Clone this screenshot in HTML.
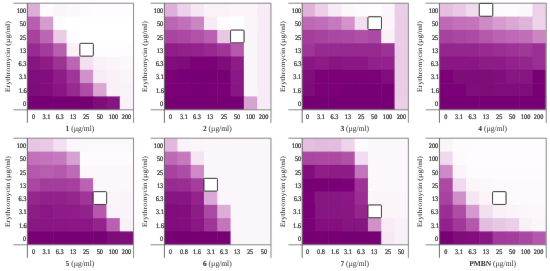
<!DOCTYPE html>
<html><head><meta charset="utf-8"><title>Checkerboard heatmaps</title>
<style>
html,body{margin:0;padding:0;background:#fff;}
svg{display:block;}
text{font-family:"Liberation Serif","DejaVu Serif",serif;fill:#111;stroke:#111;stroke-width:0.2px;text-rendering:geometricPrecision;}
.t{font-size:6.3px;}
.a{font-size:7.8px;stroke:none;}
.y{font-size:6.9px;stroke:none;}
.b{font-weight:bold;}
</style></head><body>
<svg width="550" height="271" viewBox="0 0 550 271">
<defs><filter id="soft" x="0" y="0" width="550" height="271" filterUnits="userSpaceOnUse"><feConvolveMatrix order="3" kernelMatrix="0.0016 0.0371 0.0016 0.0371 0.8450 0.0371 0.0016 0.0371 0.0016" edgeMode="duplicate" preserveAlpha="true"/></filter></defs>
<rect x="0" y="0" width="550" height="271" fill="#fff"/>
<g filter="url(#soft)">
<rect x="0" y="0" width="550" height="271" fill="#fff"/>

<g>
<rect x="26.70" y="3.30" width="13.90" height="13.90" fill="#ddadd8"/>
<rect x="40.00" y="3.30" width="13.90" height="13.90" fill="#fdfafd"/>
<rect x="53.30" y="3.30" width="13.90" height="13.90" fill="#fbf5fa"/>
<rect x="66.60" y="3.30" width="13.90" height="13.90" fill="#fcf7fb"/>
<rect x="79.90" y="3.30" width="13.90" height="13.90" fill="#fdfbfd"/>
<rect x="93.20" y="3.30" width="13.90" height="13.90" fill="#fefcfe"/>
<rect x="106.50" y="3.30" width="13.90" height="13.90" fill="#fefcfe"/>
<rect x="119.80" y="3.30" width="13.30" height="13.90" fill="#fefcfe"/>
<rect x="26.70" y="16.60" width="13.90" height="13.90" fill="#b75eaf"/>
<rect x="40.00" y="16.60" width="13.90" height="13.90" fill="#d59ccf"/>
<rect x="53.30" y="16.60" width="13.90" height="13.90" fill="#fefcfe"/>
<rect x="66.60" y="16.60" width="13.90" height="13.90" fill="#ffffff"/>
<rect x="79.90" y="16.60" width="13.90" height="13.90" fill="#ffffff"/>
<rect x="93.20" y="16.60" width="13.90" height="13.90" fill="#ffffff"/>
<rect x="106.50" y="16.60" width="13.90" height="13.90" fill="#ffffff"/>
<rect x="119.80" y="16.60" width="13.30" height="13.90" fill="#ffffff"/>
<rect x="26.70" y="29.90" width="13.90" height="13.90" fill="#a7429f"/>
<rect x="40.00" y="29.90" width="13.90" height="13.90" fill="#bb66b3"/>
<rect x="53.30" y="29.90" width="13.90" height="13.90" fill="#eacce7"/>
<rect x="66.60" y="29.90" width="13.90" height="13.90" fill="#fefcfe"/>
<rect x="79.90" y="29.90" width="13.90" height="13.90" fill="#ffffff"/>
<rect x="93.20" y="29.90" width="13.90" height="13.90" fill="#ffffff"/>
<rect x="106.50" y="29.90" width="13.90" height="13.90" fill="#ffffff"/>
<rect x="119.80" y="29.90" width="13.30" height="13.90" fill="#ffffff"/>
<rect x="26.70" y="43.20" width="13.90" height="13.90" fill="#982b91"/>
<rect x="40.00" y="43.20" width="13.90" height="13.90" fill="#a23b9b"/>
<rect x="53.30" y="43.20" width="13.90" height="13.90" fill="#b75eaf"/>
<rect x="66.60" y="43.20" width="13.90" height="13.90" fill="#f9f0f8"/>
<rect x="79.90" y="43.20" width="13.90" height="13.90" fill="#ffffff"/>
<rect x="93.20" y="43.20" width="13.90" height="13.90" fill="#fefcfe"/>
<rect x="106.50" y="43.20" width="13.90" height="13.90" fill="#fefcfe"/>
<rect x="119.80" y="43.20" width="13.30" height="13.90" fill="#fefcfe"/>
<rect x="26.70" y="56.50" width="13.90" height="13.90" fill="#871482"/>
<rect x="40.00" y="56.50" width="13.90" height="13.90" fill="#8d1c87"/>
<rect x="53.30" y="56.50" width="13.90" height="13.90" fill="#9c3094"/>
<rect x="66.60" y="56.50" width="13.90" height="13.90" fill="#bb66b3"/>
<rect x="79.90" y="56.50" width="13.90" height="13.90" fill="#f2e0f0"/>
<rect x="93.20" y="56.50" width="13.90" height="13.90" fill="#faf2f9"/>
<rect x="106.50" y="56.50" width="13.90" height="13.90" fill="#fbf5fa"/>
<rect x="119.80" y="56.50" width="13.30" height="13.90" fill="#fcf7fb"/>
<rect x="26.70" y="69.80" width="13.90" height="13.90" fill="#7f0a7b"/>
<rect x="40.00" y="69.80" width="13.90" height="13.90" fill="#830f7e"/>
<rect x="53.30" y="69.80" width="13.90" height="13.90" fill="#8d1c87"/>
<rect x="66.60" y="69.80" width="13.90" height="13.90" fill="#9f3698"/>
<rect x="79.90" y="69.80" width="13.90" height="13.90" fill="#d091ca"/>
<rect x="93.20" y="69.80" width="13.90" height="13.90" fill="#f7ebf5"/>
<rect x="106.50" y="69.80" width="13.90" height="13.90" fill="#f9f0f8"/>
<rect x="119.80" y="69.80" width="13.30" height="13.90" fill="#fbf5fa"/>
<rect x="26.70" y="83.10" width="13.90" height="13.90" fill="#7d0879"/>
<rect x="40.00" y="83.10" width="13.90" height="13.90" fill="#810d7c"/>
<rect x="53.30" y="83.10" width="13.90" height="13.90" fill="#891784"/>
<rect x="66.60" y="83.10" width="13.90" height="13.90" fill="#972990"/>
<rect x="79.90" y="83.10" width="13.90" height="13.90" fill="#ad4da5"/>
<rect x="93.20" y="83.10" width="13.90" height="13.90" fill="#d9a6d4"/>
<rect x="106.50" y="83.10" width="13.90" height="13.90" fill="#f9f0f8"/>
<rect x="119.80" y="83.10" width="13.30" height="13.90" fill="#faf2f9"/>
<rect x="26.70" y="96.40" width="13.90" height="13.30" fill="#760073"/>
<rect x="40.00" y="96.40" width="13.90" height="13.30" fill="#760073"/>
<rect x="53.30" y="96.40" width="13.90" height="13.30" fill="#760073"/>
<rect x="66.60" y="96.40" width="13.90" height="13.30" fill="#760073"/>
<rect x="79.90" y="96.40" width="13.90" height="13.30" fill="#760073"/>
<rect x="93.20" y="96.40" width="13.90" height="13.30" fill="#7d0879"/>
<rect x="106.50" y="96.40" width="13.90" height="13.30" fill="#851280"/>
<rect x="119.80" y="96.40" width="13.30" height="13.30" fill="#faf2f9"/>
<rect x="25.70" y="2.30" width="1.65" height="108.40" fill="#fff"/>
<path d="M13.55 3.20H133.70 M13.55 109.80H133.70 M133.55 3.20V122.90" stroke="#777" stroke-width="0.9" fill="none"/>
<path d="M27.35 3.20V122.90" stroke="#555" stroke-width="0.9" fill="none"/>
<rect x="79.85" y="43.35" width="13.50" height="12.80" rx="0.9" fill="#fff" stroke="#222" stroke-width="1"/>
<text class="t" transform="translate(26.15 12.95) scale(1 1.1)" text-anchor="end">100</text>
<text class="t" transform="translate(26.15 26.25) scale(1 1.1)" text-anchor="end">50</text>
<text class="t" transform="translate(26.15 39.55) scale(1 1.1)" text-anchor="end">25</text>
<text class="t" transform="translate(26.15 52.85) scale(1 1.1)" text-anchor="end">13</text>
<text class="t" transform="translate(26.45 66.15) scale(1 1.1)" text-anchor="end">6.3</text>
<text class="t" transform="translate(26.75 79.45) scale(1 1.1)" text-anchor="end">3.1</text>
<text class="t" transform="translate(26.75 92.75) scale(1 1.1)" text-anchor="end">1.6</text>
<text class="t" transform="translate(26.15 106.05) scale(1 1.1)" text-anchor="end">0</text>
<text class="t" transform="translate(33.55 118.80) scale(1 1.1)" text-anchor="middle">0</text>
<text class="t" transform="translate(46.35 118.80) scale(1 1.1)" text-anchor="middle">3.1</text>
<text class="t" transform="translate(59.75 118.80) scale(1 1.1)" text-anchor="middle">6.3</text>
<text class="t" transform="translate(73.05 118.80) scale(1 1.1)" text-anchor="middle">13</text>
<text class="t" transform="translate(86.05 118.80) scale(1 1.1)" text-anchor="middle">25</text>
<text class="t" transform="translate(99.85 118.80) scale(1 1.1)" text-anchor="middle">50</text>
<text class="t" transform="translate(113.35 118.80) scale(1 1.1)" text-anchor="middle">100</text>
<text class="t" transform="translate(126.45 118.80) scale(1 1.1)" text-anchor="middle">200</text>
<text class="y" transform="translate(10.25 56.70) rotate(-90) scale(1.165 1)" text-anchor="middle">Erythromycin (µg/ml)</text>
<text class="a" transform="translate(79.90 130.50) scale(0.96 1)" text-anchor="middle"><tspan class="b">1</tspan> (µg/ml)</text>
</g>
<g>
<rect x="164.10" y="3.30" width="13.90" height="13.90" fill="#deb0d9"/>
<rect x="177.40" y="3.30" width="13.90" height="13.90" fill="#ecd1e9"/>
<rect x="190.70" y="3.30" width="13.90" height="13.90" fill="#f5e8f4"/>
<rect x="204.00" y="3.30" width="13.90" height="13.90" fill="#faf2f9"/>
<rect x="217.30" y="3.30" width="13.90" height="13.90" fill="#faf2f9"/>
<rect x="230.60" y="3.30" width="13.90" height="13.90" fill="#fbf5fa"/>
<rect x="243.90" y="3.30" width="13.90" height="13.90" fill="#fbf5fa"/>
<rect x="257.20" y="3.30" width="13.30" height="13.90" fill="#f7ecf6"/>
<rect x="164.10" y="16.60" width="13.90" height="13.90" fill="#bb66b3"/>
<rect x="177.40" y="16.60" width="13.90" height="13.90" fill="#c170b9"/>
<rect x="190.70" y="16.60" width="13.90" height="13.90" fill="#ca85c3"/>
<rect x="204.00" y="16.60" width="13.90" height="13.90" fill="#f7ebf5"/>
<rect x="217.30" y="16.60" width="13.90" height="13.90" fill="#fefcfe"/>
<rect x="230.60" y="16.60" width="13.90" height="13.90" fill="#ffffff"/>
<rect x="243.90" y="16.60" width="13.90" height="13.90" fill="#fbf5fa"/>
<rect x="257.20" y="16.60" width="13.30" height="13.90" fill="#f7ecf6"/>
<rect x="164.10" y="29.90" width="13.90" height="13.90" fill="#a945a1"/>
<rect x="177.40" y="29.90" width="13.90" height="13.90" fill="#ac4aa4"/>
<rect x="190.70" y="29.90" width="13.90" height="13.90" fill="#b052a8"/>
<rect x="204.00" y="29.90" width="13.90" height="13.90" fill="#b961b1"/>
<rect x="217.30" y="29.90" width="13.90" height="13.90" fill="#e8c7e4"/>
<rect x="230.60" y="29.90" width="13.90" height="13.90" fill="#ffffff"/>
<rect x="243.90" y="29.90" width="13.90" height="13.90" fill="#fbf5fa"/>
<rect x="257.20" y="29.90" width="13.30" height="13.90" fill="#f7ecf6"/>
<rect x="164.10" y="43.20" width="13.90" height="13.90" fill="#8f1f89"/>
<rect x="177.40" y="43.20" width="13.90" height="13.90" fill="#91218b"/>
<rect x="190.70" y="43.20" width="13.90" height="13.90" fill="#93248c"/>
<rect x="204.00" y="43.20" width="13.90" height="13.90" fill="#972a90"/>
<rect x="217.30" y="43.20" width="13.90" height="13.90" fill="#9f3698"/>
<rect x="230.60" y="43.20" width="13.90" height="13.90" fill="#b559ac"/>
<rect x="243.90" y="43.20" width="13.90" height="13.90" fill="#fbf5fa"/>
<rect x="257.20" y="43.20" width="13.30" height="13.90" fill="#f7ecf6"/>
<rect x="164.10" y="56.50" width="13.90" height="13.90" fill="#7f0a7b"/>
<rect x="177.40" y="56.50" width="13.90" height="13.90" fill="#7d0879"/>
<rect x="190.70" y="56.50" width="13.90" height="13.90" fill="#7c0678"/>
<rect x="204.00" y="56.50" width="13.90" height="13.90" fill="#7c0678"/>
<rect x="217.30" y="56.50" width="13.90" height="13.90" fill="#7e097a"/>
<rect x="230.60" y="56.50" width="13.90" height="13.90" fill="#8d1c87"/>
<rect x="243.90" y="56.50" width="13.90" height="13.90" fill="#fbf5fa"/>
<rect x="257.20" y="56.50" width="13.30" height="13.90" fill="#f7ecf6"/>
<rect x="164.10" y="69.80" width="13.90" height="13.90" fill="#7c0678"/>
<rect x="177.40" y="69.80" width="13.90" height="13.90" fill="#780375"/>
<rect x="190.70" y="69.80" width="13.90" height="13.90" fill="#760073"/>
<rect x="204.00" y="69.80" width="13.90" height="13.90" fill="#760073"/>
<rect x="217.30" y="69.80" width="13.90" height="13.90" fill="#780375"/>
<rect x="230.60" y="69.80" width="13.90" height="13.90" fill="#8b1985"/>
<rect x="243.90" y="69.80" width="13.90" height="13.90" fill="#fbf5fa"/>
<rect x="257.20" y="69.80" width="13.30" height="13.90" fill="#f7ecf6"/>
<rect x="164.10" y="83.10" width="13.90" height="13.90" fill="#7c0678"/>
<rect x="177.40" y="83.10" width="13.90" height="13.90" fill="#790476"/>
<rect x="190.70" y="83.10" width="13.90" height="13.90" fill="#780375"/>
<rect x="204.00" y="83.10" width="13.90" height="13.90" fill="#780375"/>
<rect x="217.30" y="83.10" width="13.90" height="13.90" fill="#790476"/>
<rect x="230.60" y="83.10" width="13.90" height="13.90" fill="#881683"/>
<rect x="243.90" y="83.10" width="13.90" height="13.90" fill="#fbf5fa"/>
<rect x="257.20" y="83.10" width="13.30" height="13.90" fill="#f7ecf6"/>
<rect x="164.10" y="96.40" width="13.90" height="13.30" fill="#760073"/>
<rect x="177.40" y="96.40" width="13.90" height="13.30" fill="#760073"/>
<rect x="190.70" y="96.40" width="13.90" height="13.30" fill="#760073"/>
<rect x="204.00" y="96.40" width="13.90" height="13.30" fill="#760073"/>
<rect x="217.30" y="96.40" width="13.90" height="13.30" fill="#760073"/>
<rect x="230.60" y="96.40" width="13.90" height="13.30" fill="#760073"/>
<rect x="243.90" y="96.40" width="13.90" height="13.30" fill="#d7a1d2"/>
<rect x="257.20" y="96.40" width="13.30" height="13.30" fill="#f7ecf6"/>
<rect x="163.10" y="2.30" width="1.30" height="108.40" fill="#fff"/>
<path d="M150.60 3.20H271.10 M150.60 109.80H271.10 M270.95 3.20V122.90" stroke="#777" stroke-width="0.9" fill="none"/>
<path d="M164.40 3.20V122.90" stroke="#555" stroke-width="0.9" fill="none"/>
<rect x="230.55" y="30.05" width="13.50" height="12.80" rx="0.9" fill="#fff" stroke="#222" stroke-width="1"/>
<text class="t" transform="translate(163.20 12.95) scale(1 1.1)" text-anchor="end">100</text>
<text class="t" transform="translate(163.20 26.25) scale(1 1.1)" text-anchor="end">50</text>
<text class="t" transform="translate(163.20 39.55) scale(1 1.1)" text-anchor="end">25</text>
<text class="t" transform="translate(163.20 52.85) scale(1 1.1)" text-anchor="end">13</text>
<text class="t" transform="translate(163.50 66.15) scale(1 1.1)" text-anchor="end">6.3</text>
<text class="t" transform="translate(163.80 79.45) scale(1 1.1)" text-anchor="end">3.1</text>
<text class="t" transform="translate(163.80 92.75) scale(1 1.1)" text-anchor="end">1.6</text>
<text class="t" transform="translate(163.20 106.05) scale(1 1.1)" text-anchor="end">0</text>
<text class="t" transform="translate(170.55 118.80) scale(1 1.1)" text-anchor="middle">0</text>
<text class="t" transform="translate(183.85 118.80) scale(1 1.1)" text-anchor="middle">3.1</text>
<text class="t" transform="translate(196.95 118.80) scale(1 1.1)" text-anchor="middle">6.3</text>
<text class="t" transform="translate(210.05 118.80) scale(1 1.1)" text-anchor="middle">13</text>
<text class="t" transform="translate(224.05 118.80) scale(1 1.1)" text-anchor="middle">25</text>
<text class="t" transform="translate(237.05 118.80) scale(1 1.1)" text-anchor="middle">50</text>
<text class="t" transform="translate(250.45 118.80) scale(1 1.1)" text-anchor="middle">100</text>
<text class="t" transform="translate(263.55 118.80) scale(1 1.1)" text-anchor="middle">200</text>
<text class="y" transform="translate(147.30 56.70) rotate(-90) scale(1.165 1)" text-anchor="middle">Erythromycin (µg/ml)</text>
<text class="a" transform="translate(217.30 130.50) scale(0.96 1)" text-anchor="middle"><tspan class="b">2</tspan> (µg/ml)</text>
</g>
<g>
<rect x="301.50" y="3.30" width="13.90" height="13.90" fill="#dfb2da"/>
<rect x="314.80" y="3.30" width="13.90" height="13.90" fill="#ebd0e8"/>
<rect x="328.10" y="3.30" width="13.90" height="13.90" fill="#f7ebf5"/>
<rect x="341.40" y="3.30" width="13.90" height="13.90" fill="#fcf7fb"/>
<rect x="354.70" y="3.30" width="13.90" height="13.90" fill="#fdfbfd"/>
<rect x="368.00" y="3.30" width="13.90" height="13.90" fill="#fefcfe"/>
<rect x="381.30" y="3.30" width="13.90" height="13.90" fill="#fbf6fb"/>
<rect x="394.60" y="3.30" width="13.30" height="13.90" fill="#eacde7"/>
<rect x="301.50" y="16.60" width="13.90" height="13.90" fill="#bd69b5"/>
<rect x="314.80" y="16.60" width="13.90" height="13.90" fill="#bf6eb8"/>
<rect x="328.10" y="16.60" width="13.90" height="13.90" fill="#c579be"/>
<rect x="341.40" y="16.60" width="13.90" height="13.90" fill="#d294cb"/>
<rect x="354.70" y="16.60" width="13.90" height="13.90" fill="#f2dff0"/>
<rect x="368.00" y="16.60" width="13.90" height="13.90" fill="#ffffff"/>
<rect x="381.30" y="16.60" width="13.90" height="13.90" fill="#fbf5fa"/>
<rect x="394.60" y="16.60" width="13.30" height="13.90" fill="#eacce7"/>
<rect x="301.50" y="29.90" width="13.90" height="13.90" fill="#a53e9d"/>
<rect x="314.80" y="29.90" width="13.90" height="13.90" fill="#a7429f"/>
<rect x="328.10" y="29.90" width="13.90" height="13.90" fill="#aa46a2"/>
<rect x="341.40" y="29.90" width="13.90" height="13.90" fill="#ac4aa4"/>
<rect x="354.70" y="29.90" width="13.90" height="13.90" fill="#af4fa7"/>
<rect x="368.00" y="29.90" width="13.90" height="13.90" fill="#ac4aa4"/>
<rect x="381.30" y="29.90" width="13.90" height="13.90" fill="#f9f1f8"/>
<rect x="394.60" y="29.90" width="13.30" height="13.90" fill="#eacce7"/>
<rect x="301.50" y="43.20" width="13.90" height="13.90" fill="#9f3698"/>
<rect x="314.80" y="43.20" width="13.90" height="13.90" fill="#972a90"/>
<rect x="328.10" y="43.20" width="13.90" height="13.90" fill="#972990"/>
<rect x="341.40" y="43.20" width="13.90" height="13.90" fill="#972990"/>
<rect x="354.70" y="43.20" width="13.90" height="13.90" fill="#972990"/>
<rect x="368.00" y="43.20" width="13.90" height="13.90" fill="#972990"/>
<rect x="381.30" y="43.20" width="13.90" height="13.90" fill="#9c3094"/>
<rect x="394.60" y="43.20" width="13.30" height="13.90" fill="#eacce7"/>
<rect x="301.50" y="56.50" width="13.90" height="13.90" fill="#8b1985"/>
<rect x="314.80" y="56.50" width="13.90" height="13.90" fill="#8d1c87"/>
<rect x="328.10" y="56.50" width="13.90" height="13.90" fill="#871482"/>
<rect x="341.40" y="56.50" width="13.90" height="13.90" fill="#8b1985"/>
<rect x="354.70" y="56.50" width="13.90" height="13.90" fill="#8b1985"/>
<rect x="368.00" y="56.50" width="13.90" height="13.90" fill="#92228b"/>
<rect x="381.30" y="56.50" width="13.90" height="13.90" fill="#93248c"/>
<rect x="394.60" y="56.50" width="13.30" height="13.90" fill="#eacce7"/>
<rect x="301.50" y="69.80" width="13.90" height="13.90" fill="#7f0a7b"/>
<rect x="314.80" y="69.80" width="13.90" height="13.90" fill="#7b0577"/>
<rect x="328.10" y="69.80" width="13.90" height="13.90" fill="#7b0577"/>
<rect x="341.40" y="69.80" width="13.90" height="13.90" fill="#7b0577"/>
<rect x="354.70" y="69.80" width="13.90" height="13.90" fill="#7b0577"/>
<rect x="368.00" y="69.80" width="13.90" height="13.90" fill="#7b0577"/>
<rect x="381.30" y="69.80" width="13.90" height="13.90" fill="#800b7c"/>
<rect x="394.60" y="69.80" width="13.30" height="13.90" fill="#eacce7"/>
<rect x="301.50" y="83.10" width="13.90" height="13.90" fill="#7d0879"/>
<rect x="314.80" y="83.10" width="13.90" height="13.90" fill="#7b0577"/>
<rect x="328.10" y="83.10" width="13.90" height="13.90" fill="#7b0577"/>
<rect x="341.40" y="83.10" width="13.90" height="13.90" fill="#780375"/>
<rect x="354.70" y="83.10" width="13.90" height="13.90" fill="#780375"/>
<rect x="368.00" y="83.10" width="13.90" height="13.90" fill="#780375"/>
<rect x="381.30" y="83.10" width="13.90" height="13.90" fill="#780375"/>
<rect x="394.60" y="83.10" width="13.30" height="13.90" fill="#eacce7"/>
<rect x="301.50" y="96.40" width="13.90" height="13.30" fill="#760073"/>
<rect x="314.80" y="96.40" width="13.90" height="13.30" fill="#760073"/>
<rect x="328.10" y="96.40" width="13.90" height="13.30" fill="#760073"/>
<rect x="341.40" y="96.40" width="13.90" height="13.30" fill="#760073"/>
<rect x="354.70" y="96.40" width="13.90" height="13.30" fill="#760073"/>
<rect x="368.00" y="96.40" width="13.90" height="13.30" fill="#760073"/>
<rect x="381.30" y="96.40" width="13.90" height="13.30" fill="#760073"/>
<rect x="394.60" y="96.40" width="13.30" height="13.30" fill="#ebcfe8"/>
<rect x="300.50" y="2.30" width="1.70" height="108.40" fill="#fff"/>
<path d="M288.40 3.20H408.50 M288.40 109.80H408.50 M408.35 3.20V122.90" stroke="#777" stroke-width="0.9" fill="none"/>
<path d="M302.20 3.20V122.90" stroke="#555" stroke-width="0.9" fill="none"/>
<rect x="367.95" y="16.75" width="13.50" height="12.80" rx="0.9" fill="#fff" stroke="#222" stroke-width="1"/>
<text class="t" transform="translate(301.20 12.95) scale(1 1.1)" text-anchor="end">100</text>
<text class="t" transform="translate(301.20 26.25) scale(1 1.1)" text-anchor="end">50</text>
<text class="t" transform="translate(301.20 39.55) scale(1 1.1)" text-anchor="end">25</text>
<text class="t" transform="translate(301.20 52.85) scale(1 1.1)" text-anchor="end">13</text>
<text class="t" transform="translate(301.50 66.15) scale(1 1.1)" text-anchor="end">6.3</text>
<text class="t" transform="translate(301.20 79.45) scale(1 1.1)" text-anchor="end">3.1</text>
<text class="t" transform="translate(300.90 92.75) scale(1 1.1)" text-anchor="end">1.6</text>
<text class="t" transform="translate(301.20 106.05) scale(1 1.1)" text-anchor="end">0</text>
<text class="t" transform="translate(307.65 118.80) scale(1 1.1)" text-anchor="middle">0</text>
<text class="t" transform="translate(320.95 118.80) scale(1 1.1)" text-anchor="middle">3.1</text>
<text class="t" transform="translate(334.55 118.80) scale(1 1.1)" text-anchor="middle">6.3</text>
<text class="t" transform="translate(347.95 118.80) scale(1 1.1)" text-anchor="middle">13</text>
<text class="t" transform="translate(361.15 118.80) scale(1 1.1)" text-anchor="middle">25</text>
<text class="t" transform="translate(374.15 118.80) scale(1 1.1)" text-anchor="middle">50</text>
<text class="t" transform="translate(387.45 118.80) scale(1 1.1)" text-anchor="middle">100</text>
<text class="t" transform="translate(401.35 118.80) scale(1 1.1)" text-anchor="middle">200</text>
<text class="y" transform="translate(285.10 56.70) rotate(-90) scale(1.165 1)" text-anchor="middle">Erythromycin (µg/ml)</text>
<text class="a" transform="translate(354.70 130.50) scale(0.96 1)" text-anchor="middle"><tspan class="b">3</tspan> (µg/ml)</text>
</g>
<g>
<rect x="439.40" y="3.30" width="13.90" height="13.90" fill="#e4bfe0"/>
<rect x="452.70" y="3.30" width="13.90" height="13.90" fill="#e9c9e5"/>
<rect x="466.00" y="3.30" width="13.90" height="13.90" fill="#f0dbee"/>
<rect x="479.30" y="3.30" width="13.90" height="13.90" fill="#ffffff"/>
<rect x="492.60" y="3.30" width="13.90" height="13.90" fill="#fdfafd"/>
<rect x="505.90" y="3.30" width="13.90" height="13.90" fill="#fdfbfd"/>
<rect x="519.20" y="3.30" width="13.90" height="13.90" fill="#fcf7fb"/>
<rect x="532.50" y="3.30" width="13.30" height="13.90" fill="#ecd1e9"/>
<rect x="439.40" y="16.60" width="13.90" height="13.90" fill="#bd69b5"/>
<rect x="452.70" y="16.60" width="13.90" height="13.90" fill="#c170b9"/>
<rect x="466.00" y="16.60" width="13.90" height="13.90" fill="#c274bb"/>
<rect x="479.30" y="16.60" width="13.90" height="13.90" fill="#ce8cc7"/>
<rect x="492.60" y="16.60" width="13.90" height="13.90" fill="#d59ccf"/>
<rect x="505.90" y="16.60" width="13.90" height="13.90" fill="#dba8d5"/>
<rect x="519.20" y="16.60" width="13.90" height="13.90" fill="#dfb4db"/>
<rect x="532.50" y="16.60" width="13.30" height="13.90" fill="#edd4ea"/>
<rect x="439.40" y="29.90" width="13.90" height="13.90" fill="#a7429f"/>
<rect x="452.70" y="29.90" width="13.90" height="13.90" fill="#aa47a2"/>
<rect x="466.00" y="29.90" width="13.90" height="13.90" fill="#ad4ba5"/>
<rect x="479.30" y="29.90" width="13.90" height="13.90" fill="#b559ac"/>
<rect x="492.60" y="29.90" width="13.90" height="13.90" fill="#ba63b2"/>
<rect x="505.90" y="29.90" width="13.90" height="13.90" fill="#bd69b5"/>
<rect x="519.20" y="29.90" width="13.90" height="13.90" fill="#bf6eb8"/>
<rect x="532.50" y="29.90" width="13.30" height="13.90" fill="#ca85c3"/>
<rect x="439.40" y="43.20" width="13.90" height="13.90" fill="#95268e"/>
<rect x="452.70" y="43.20" width="13.90" height="13.90" fill="#95268e"/>
<rect x="466.00" y="43.20" width="13.90" height="13.90" fill="#96288f"/>
<rect x="479.30" y="43.20" width="13.90" height="13.90" fill="#982b91"/>
<rect x="492.60" y="43.20" width="13.90" height="13.90" fill="#9b2f94"/>
<rect x="505.90" y="43.20" width="13.90" height="13.90" fill="#9e3396"/>
<rect x="519.20" y="43.20" width="13.90" height="13.90" fill="#a03798"/>
<rect x="532.50" y="43.20" width="13.30" height="13.90" fill="#9b2f94"/>
<rect x="439.40" y="56.50" width="13.90" height="13.90" fill="#881683"/>
<rect x="452.70" y="56.50" width="13.90" height="13.90" fill="#8a1885"/>
<rect x="466.00" y="56.50" width="13.90" height="13.90" fill="#8a1885"/>
<rect x="479.30" y="56.50" width="13.90" height="13.90" fill="#8c1b86"/>
<rect x="492.60" y="56.50" width="13.90" height="13.90" fill="#8e1d88"/>
<rect x="505.90" y="56.50" width="13.90" height="13.90" fill="#93248c"/>
<rect x="519.20" y="56.50" width="13.90" height="13.90" fill="#95268e"/>
<rect x="532.50" y="56.50" width="13.30" height="13.90" fill="#9b2f94"/>
<rect x="439.40" y="69.80" width="13.90" height="13.90" fill="#7c0678"/>
<rect x="452.70" y="69.80" width="13.90" height="13.90" fill="#7d0879"/>
<rect x="466.00" y="69.80" width="13.90" height="13.90" fill="#7d0879"/>
<rect x="479.30" y="69.80" width="13.90" height="13.90" fill="#7d0879"/>
<rect x="492.60" y="69.80" width="13.90" height="13.90" fill="#830f7e"/>
<rect x="505.90" y="69.80" width="13.90" height="13.90" fill="#861381"/>
<rect x="519.20" y="69.80" width="13.90" height="13.90" fill="#861381"/>
<rect x="532.50" y="69.80" width="13.30" height="13.90" fill="#780375"/>
<rect x="439.40" y="83.10" width="13.90" height="13.90" fill="#7b0577"/>
<rect x="452.70" y="83.10" width="13.90" height="13.90" fill="#7c0678"/>
<rect x="466.00" y="83.10" width="13.90" height="13.90" fill="#7f0a7b"/>
<rect x="479.30" y="83.10" width="13.90" height="13.90" fill="#7e097a"/>
<rect x="492.60" y="83.10" width="13.90" height="13.90" fill="#800c7c"/>
<rect x="505.90" y="83.10" width="13.90" height="13.90" fill="#810d7c"/>
<rect x="519.20" y="83.10" width="13.90" height="13.90" fill="#810d7c"/>
<rect x="532.50" y="83.10" width="13.30" height="13.90" fill="#780375"/>
<rect x="439.40" y="96.40" width="13.90" height="13.30" fill="#760073"/>
<rect x="452.70" y="96.40" width="13.90" height="13.30" fill="#760073"/>
<rect x="466.00" y="96.40" width="13.90" height="13.30" fill="#760073"/>
<rect x="479.30" y="96.40" width="13.90" height="13.30" fill="#760073"/>
<rect x="492.60" y="96.40" width="13.90" height="13.30" fill="#760073"/>
<rect x="505.90" y="96.40" width="13.90" height="13.30" fill="#760073"/>
<rect x="519.20" y="96.40" width="13.90" height="13.30" fill="#760073"/>
<rect x="532.50" y="96.40" width="13.30" height="13.30" fill="#760073"/>
<rect x="438.40" y="2.30" width="1.00" height="108.40" fill="#fff"/>
<path d="M425.60 3.20H546.40 M425.60 109.80H546.40 M546.25 3.20V122.90" stroke="#777" stroke-width="0.9" fill="none"/>
<path d="M439.40 3.20V122.90" stroke="#555" stroke-width="0.9" fill="none"/>
<rect x="479.25" y="3.45" width="13.50" height="12.80" rx="0.9" fill="#fff" stroke="#222" stroke-width="1"/>
<text class="t" transform="translate(438.20 12.95) scale(1 1.1)" text-anchor="end">100</text>
<text class="t" transform="translate(438.20 26.25) scale(1 1.1)" text-anchor="end">50</text>
<text class="t" transform="translate(438.20 39.55) scale(1 1.1)" text-anchor="end">25</text>
<text class="t" transform="translate(438.20 52.85) scale(1 1.1)" text-anchor="end">13</text>
<text class="t" transform="translate(438.50 66.15) scale(1 1.1)" text-anchor="end">6.3</text>
<text class="t" transform="translate(438.80 79.45) scale(1 1.1)" text-anchor="end">3.1</text>
<text class="t" transform="translate(438.80 92.75) scale(1 1.1)" text-anchor="end">1.6</text>
<text class="t" transform="translate(438.20 106.05) scale(1 1.1)" text-anchor="end">0</text>
<text class="t" transform="translate(445.75 118.80) scale(1 1.1)" text-anchor="middle">0</text>
<text class="t" transform="translate(458.95 118.80) scale(1 1.1)" text-anchor="middle">3.1</text>
<text class="t" transform="translate(472.55 118.80) scale(1 1.1)" text-anchor="middle">6.3</text>
<text class="t" transform="translate(485.95 118.80) scale(1 1.1)" text-anchor="middle">13</text>
<text class="t" transform="translate(499.15 118.80) scale(1 1.1)" text-anchor="middle">25</text>
<text class="t" transform="translate(512.15 118.80) scale(1 1.1)" text-anchor="middle">50</text>
<text class="t" transform="translate(525.55 118.80) scale(1 1.1)" text-anchor="middle">100</text>
<text class="t" transform="translate(538.55 118.80) scale(1 1.1)" text-anchor="middle">200</text>
<text class="y" transform="translate(422.30 56.70) rotate(-90) scale(1.165 1)" text-anchor="middle">Erythromycin (µg/ml)</text>
<text class="a" transform="translate(492.60 130.50) scale(0.96 1)" text-anchor="middle"><tspan class="b">4</tspan> (µg/ml)</text>
</g>
<g>
<rect x="26.70" y="138.30" width="13.90" height="13.90" fill="#e7c6e4"/>
<rect x="40.00" y="138.30" width="13.90" height="13.90" fill="#e9c9e5"/>
<rect x="53.30" y="138.30" width="13.90" height="13.90" fill="#f2dff0"/>
<rect x="66.60" y="138.30" width="13.90" height="13.90" fill="#fbf6fb"/>
<rect x="79.90" y="138.30" width="13.90" height="13.90" fill="#fcf7fb"/>
<rect x="93.20" y="138.30" width="13.90" height="13.90" fill="#fcf7fb"/>
<rect x="106.50" y="138.30" width="13.90" height="13.90" fill="#fcf7fb"/>
<rect x="119.80" y="138.30" width="13.30" height="13.90" fill="#fcf7fb"/>
<rect x="26.70" y="151.60" width="13.90" height="13.90" fill="#c170b9"/>
<rect x="40.00" y="151.60" width="13.90" height="13.90" fill="#c375bc"/>
<rect x="53.30" y="151.60" width="13.90" height="13.90" fill="#c579be"/>
<rect x="66.60" y="151.60" width="13.90" height="13.90" fill="#d7a1d2"/>
<rect x="79.90" y="151.60" width="13.90" height="13.90" fill="#fdfbfd"/>
<rect x="93.20" y="151.60" width="13.90" height="13.90" fill="#fdfbfd"/>
<rect x="106.50" y="151.60" width="13.90" height="13.90" fill="#fdfbfd"/>
<rect x="119.80" y="151.60" width="13.30" height="13.90" fill="#fdfbfd"/>
<rect x="26.70" y="164.90" width="13.90" height="13.90" fill="#b559ac"/>
<rect x="40.00" y="164.90" width="13.90" height="13.90" fill="#b75eaf"/>
<rect x="53.30" y="164.90" width="13.90" height="13.90" fill="#b559ac"/>
<rect x="66.60" y="164.90" width="13.90" height="13.90" fill="#bd6ab6"/>
<rect x="79.90" y="164.90" width="13.90" height="13.90" fill="#fcf7fb"/>
<rect x="93.20" y="164.90" width="13.90" height="13.90" fill="#fcf7fb"/>
<rect x="106.50" y="164.90" width="13.90" height="13.90" fill="#fcf7fb"/>
<rect x="119.80" y="164.90" width="13.30" height="13.90" fill="#fcf7fb"/>
<rect x="26.70" y="178.20" width="13.90" height="13.90" fill="#aa47a2"/>
<rect x="40.00" y="178.20" width="13.90" height="13.90" fill="#a33c9c"/>
<rect x="53.30" y="178.20" width="13.90" height="13.90" fill="#a33c9c"/>
<rect x="66.60" y="178.20" width="13.90" height="13.90" fill="#a6409e"/>
<rect x="79.90" y="178.20" width="13.90" height="13.90" fill="#ba63b2"/>
<rect x="93.20" y="178.20" width="13.90" height="13.90" fill="#fcf7fb"/>
<rect x="106.50" y="178.20" width="13.90" height="13.90" fill="#fcf7fb"/>
<rect x="119.80" y="178.20" width="13.30" height="13.90" fill="#fcf7fb"/>
<rect x="26.70" y="191.50" width="13.90" height="13.90" fill="#94258d"/>
<rect x="40.00" y="191.50" width="13.90" height="13.90" fill="#91218b"/>
<rect x="53.30" y="191.50" width="13.90" height="13.90" fill="#91218b"/>
<rect x="66.60" y="191.50" width="13.90" height="13.90" fill="#95268e"/>
<rect x="79.90" y="191.50" width="13.90" height="13.90" fill="#9f3698"/>
<rect x="93.20" y="191.50" width="13.90" height="13.90" fill="#ffffff"/>
<rect x="106.50" y="191.50" width="13.90" height="13.90" fill="#fbf5fa"/>
<rect x="119.80" y="191.50" width="13.30" height="13.90" fill="#faf4fa"/>
<rect x="26.70" y="204.80" width="13.90" height="13.90" fill="#8d1c87"/>
<rect x="40.00" y="204.80" width="13.90" height="13.90" fill="#8b1985"/>
<rect x="53.30" y="204.80" width="13.90" height="13.90" fill="#8d1c87"/>
<rect x="66.60" y="204.80" width="13.90" height="13.90" fill="#8f1f89"/>
<rect x="79.90" y="204.80" width="13.90" height="13.90" fill="#92228b"/>
<rect x="93.20" y="204.80" width="13.90" height="13.90" fill="#b559ac"/>
<rect x="106.50" y="204.80" width="13.90" height="13.90" fill="#faf2f9"/>
<rect x="119.80" y="204.80" width="13.30" height="13.90" fill="#faf4fa"/>
<rect x="26.70" y="218.10" width="13.90" height="13.90" fill="#881683"/>
<rect x="40.00" y="218.10" width="13.90" height="13.90" fill="#8a1885"/>
<rect x="53.30" y="218.10" width="13.90" height="13.90" fill="#8a1885"/>
<rect x="66.60" y="218.10" width="13.90" height="13.90" fill="#8b1985"/>
<rect x="79.90" y="218.10" width="13.90" height="13.90" fill="#8b1985"/>
<rect x="93.20" y="218.10" width="13.90" height="13.90" fill="#93248c"/>
<rect x="106.50" y="218.10" width="13.90" height="13.90" fill="#b961b1"/>
<rect x="119.80" y="218.10" width="13.30" height="13.90" fill="#f9f1f8"/>
<rect x="26.70" y="231.40" width="13.90" height="13.30" fill="#780375"/>
<rect x="40.00" y="231.40" width="13.90" height="13.30" fill="#780375"/>
<rect x="53.30" y="231.40" width="13.90" height="13.30" fill="#780375"/>
<rect x="66.60" y="231.40" width="13.90" height="13.30" fill="#780375"/>
<rect x="79.90" y="231.40" width="13.90" height="13.30" fill="#780375"/>
<rect x="93.20" y="231.40" width="13.90" height="13.30" fill="#780375"/>
<rect x="106.50" y="231.40" width="13.90" height="13.30" fill="#7d0879"/>
<rect x="119.80" y="231.40" width="13.30" height="13.30" fill="#800b7c"/>
<rect x="25.70" y="137.30" width="1.65" height="108.40" fill="#fff"/>
<path d="M13.55 138.20H133.70 M13.55 244.80H133.70 M133.55 138.20V257.90" stroke="#777" stroke-width="0.9" fill="none"/>
<path d="M27.35 138.20V257.90" stroke="#555" stroke-width="0.9" fill="none"/>
<rect x="93.15" y="191.65" width="13.50" height="12.80" rx="0.9" fill="#fff" stroke="#222" stroke-width="1"/>
<text class="t" transform="translate(26.15 147.95) scale(1 1.1)" text-anchor="end">100</text>
<text class="t" transform="translate(26.15 161.25) scale(1 1.1)" text-anchor="end">50</text>
<text class="t" transform="translate(26.15 174.55) scale(1 1.1)" text-anchor="end">25</text>
<text class="t" transform="translate(26.15 187.85) scale(1 1.1)" text-anchor="end">13</text>
<text class="t" transform="translate(26.45 201.15) scale(1 1.1)" text-anchor="end">6.3</text>
<text class="t" transform="translate(26.75 214.45) scale(1 1.1)" text-anchor="end">3.1</text>
<text class="t" transform="translate(26.75 227.75) scale(1 1.1)" text-anchor="end">1.6</text>
<text class="t" transform="translate(26.15 241.05) scale(1 1.1)" text-anchor="end">0</text>
<text class="t" transform="translate(33.55 253.80) scale(1 1.1)" text-anchor="middle">0</text>
<text class="t" transform="translate(46.35 253.80) scale(1 1.1)" text-anchor="middle">3.1</text>
<text class="t" transform="translate(59.75 253.80) scale(1 1.1)" text-anchor="middle">6.3</text>
<text class="t" transform="translate(73.05 253.80) scale(1 1.1)" text-anchor="middle">13</text>
<text class="t" transform="translate(86.05 253.80) scale(1 1.1)" text-anchor="middle">25</text>
<text class="t" transform="translate(99.85 253.80) scale(1 1.1)" text-anchor="middle">50</text>
<text class="t" transform="translate(113.35 253.80) scale(1 1.1)" text-anchor="middle">100</text>
<text class="t" transform="translate(126.45 253.80) scale(1 1.1)" text-anchor="middle">200</text>
<text class="y" transform="translate(10.25 191.70) rotate(-90) scale(1.165 1)" text-anchor="middle">Erythromycin (µg/ml)</text>
<text class="a" transform="translate(79.90 265.50) scale(0.96 1)" text-anchor="middle"><tspan class="b">5</tspan> (µg/ml)</text>
</g>
<g>
<rect x="164.10" y="138.30" width="13.90" height="13.90" fill="#e2b9dd"/>
<rect x="177.40" y="138.30" width="13.90" height="13.90" fill="#faf2f9"/>
<rect x="190.70" y="138.30" width="13.90" height="13.90" fill="#fbf5fa"/>
<rect x="204.00" y="138.30" width="13.90" height="13.90" fill="#fbf6fb"/>
<rect x="217.30" y="138.30" width="13.90" height="13.90" fill="#fbf6fb"/>
<rect x="230.60" y="138.30" width="13.90" height="13.90" fill="#fbf6fb"/>
<rect x="243.90" y="138.30" width="13.90" height="13.90" fill="#fbf6fb"/>
<rect x="257.20" y="138.30" width="13.30" height="13.90" fill="#fbf6fb"/>
<rect x="164.10" y="151.60" width="13.90" height="13.90" fill="#bd69b5"/>
<rect x="177.40" y="151.60" width="13.90" height="13.90" fill="#c67abe"/>
<rect x="190.70" y="151.60" width="13.90" height="13.90" fill="#f4e4f2"/>
<rect x="204.00" y="151.60" width="13.90" height="13.90" fill="#fbf6fb"/>
<rect x="217.30" y="151.60" width="13.90" height="13.90" fill="#fbf6fb"/>
<rect x="230.60" y="151.60" width="13.90" height="13.90" fill="#fbf6fb"/>
<rect x="243.90" y="151.60" width="13.90" height="13.90" fill="#fbf6fb"/>
<rect x="257.20" y="151.60" width="13.30" height="13.90" fill="#fbf6fb"/>
<rect x="164.10" y="164.90" width="13.90" height="13.90" fill="#a7429f"/>
<rect x="177.40" y="164.90" width="13.90" height="13.90" fill="#ae4ea6"/>
<rect x="190.70" y="164.90" width="13.90" height="13.90" fill="#cd8ac6"/>
<rect x="204.00" y="164.90" width="13.90" height="13.90" fill="#fbf6fb"/>
<rect x="217.30" y="164.90" width="13.90" height="13.90" fill="#fbf6fb"/>
<rect x="230.60" y="164.90" width="13.90" height="13.90" fill="#fbf6fb"/>
<rect x="243.90" y="164.90" width="13.90" height="13.90" fill="#fbf6fb"/>
<rect x="257.20" y="164.90" width="13.30" height="13.90" fill="#fbf6fb"/>
<rect x="164.10" y="178.20" width="13.90" height="13.90" fill="#982b91"/>
<rect x="177.40" y="178.20" width="13.90" height="13.90" fill="#992d92"/>
<rect x="190.70" y="178.20" width="13.90" height="13.90" fill="#a53e9d"/>
<rect x="204.00" y="178.20" width="13.90" height="13.90" fill="#ffffff"/>
<rect x="217.30" y="178.20" width="13.90" height="13.90" fill="#fbf6fb"/>
<rect x="230.60" y="178.20" width="13.90" height="13.90" fill="#fbf6fb"/>
<rect x="243.90" y="178.20" width="13.90" height="13.90" fill="#fbf6fb"/>
<rect x="257.20" y="178.20" width="13.30" height="13.90" fill="#fbf6fb"/>
<rect x="164.10" y="191.50" width="13.90" height="13.90" fill="#861381"/>
<rect x="177.40" y="191.50" width="13.90" height="13.90" fill="#871482"/>
<rect x="190.70" y="191.50" width="13.90" height="13.90" fill="#93248c"/>
<rect x="204.00" y="191.50" width="13.90" height="13.90" fill="#dba8d5"/>
<rect x="217.30" y="191.50" width="13.90" height="13.90" fill="#fbf6fb"/>
<rect x="230.60" y="191.50" width="13.90" height="13.90" fill="#fbf6fb"/>
<rect x="243.90" y="191.50" width="13.90" height="13.90" fill="#fbf6fb"/>
<rect x="257.20" y="191.50" width="13.30" height="13.90" fill="#fbf6fb"/>
<rect x="164.10" y="204.80" width="13.90" height="13.90" fill="#810d7c"/>
<rect x="177.40" y="204.80" width="13.90" height="13.90" fill="#820e7d"/>
<rect x="190.70" y="204.80" width="13.90" height="13.90" fill="#8c1b86"/>
<rect x="204.00" y="204.80" width="13.90" height="13.90" fill="#ac4aa4"/>
<rect x="217.30" y="204.80" width="13.90" height="13.90" fill="#ddadd8"/>
<rect x="230.60" y="204.80" width="13.90" height="13.90" fill="#fbf6fb"/>
<rect x="243.90" y="204.80" width="13.90" height="13.90" fill="#fbf6fb"/>
<rect x="257.20" y="204.80" width="13.30" height="13.90" fill="#fbf6fb"/>
<rect x="164.10" y="218.10" width="13.90" height="13.90" fill="#800b7c"/>
<rect x="177.40" y="218.10" width="13.90" height="13.90" fill="#820e7d"/>
<rect x="190.70" y="218.10" width="13.90" height="13.90" fill="#8b1985"/>
<rect x="204.00" y="218.10" width="13.90" height="13.90" fill="#9f3698"/>
<rect x="217.30" y="218.10" width="13.90" height="13.90" fill="#c375bc"/>
<rect x="230.60" y="218.10" width="13.90" height="13.90" fill="#fbf6fb"/>
<rect x="243.90" y="218.10" width="13.90" height="13.90" fill="#fbf6fb"/>
<rect x="257.20" y="218.10" width="13.30" height="13.90" fill="#fbf6fb"/>
<rect x="164.10" y="231.40" width="13.90" height="13.30" fill="#780375"/>
<rect x="177.40" y="231.40" width="13.90" height="13.30" fill="#760073"/>
<rect x="190.70" y="231.40" width="13.90" height="13.30" fill="#760073"/>
<rect x="204.00" y="231.40" width="13.90" height="13.30" fill="#760073"/>
<rect x="217.30" y="231.40" width="13.90" height="13.30" fill="#760073"/>
<rect x="230.60" y="231.40" width="13.90" height="13.30" fill="#fbf6fb"/>
<rect x="243.90" y="231.40" width="13.90" height="13.30" fill="#fbf6fb"/>
<rect x="257.20" y="231.40" width="13.30" height="13.30" fill="#fbf6fb"/>
<rect x="163.10" y="137.30" width="1.30" height="108.40" fill="#fff"/>
<path d="M150.60 138.20H271.10 M150.60 244.80H271.10 M270.95 138.20V257.90" stroke="#777" stroke-width="0.9" fill="none"/>
<path d="M164.40 138.20V257.90" stroke="#555" stroke-width="0.9" fill="none"/>
<rect x="203.95" y="178.35" width="13.50" height="12.80" rx="0.9" fill="#fff" stroke="#222" stroke-width="1"/>
<text class="t" transform="translate(163.20 147.95) scale(1 1.1)" text-anchor="end">100</text>
<text class="t" transform="translate(163.20 161.25) scale(1 1.1)" text-anchor="end">50</text>
<text class="t" transform="translate(163.20 174.55) scale(1 1.1)" text-anchor="end">25</text>
<text class="t" transform="translate(163.20 187.85) scale(1 1.1)" text-anchor="end">13</text>
<text class="t" transform="translate(163.50 201.15) scale(1 1.1)" text-anchor="end">6.3</text>
<text class="t" transform="translate(163.80 214.45) scale(1 1.1)" text-anchor="end">3.1</text>
<text class="t" transform="translate(163.80 227.75) scale(1 1.1)" text-anchor="end">1.6</text>
<text class="t" transform="translate(163.20 241.05) scale(1 1.1)" text-anchor="end">0</text>
<text class="t" transform="translate(170.55 253.80) scale(1 1.1)" text-anchor="middle">0</text>
<text class="t" transform="translate(183.85 253.80) scale(1 1.1)" text-anchor="middle">0.8</text>
<text class="t" transform="translate(196.95 253.80) scale(1 1.1)" text-anchor="middle">1.6</text>
<text class="t" transform="translate(210.85 253.80) scale(1 1.1)" text-anchor="middle">3.1</text>
<text class="t" transform="translate(223.85 253.80) scale(1 1.1)" text-anchor="middle">6.3</text>
<text class="t" transform="translate(237.05 253.80) scale(1 1.1)" text-anchor="middle">13</text>
<text class="t" transform="translate(250.05 253.80) scale(1 1.1)" text-anchor="middle">25</text>
<text class="t" transform="translate(263.95 253.80) scale(1 1.1)" text-anchor="middle">50</text>
<text class="y" transform="translate(147.30 191.70) rotate(-90) scale(1.165 1)" text-anchor="middle">Erythromycin (µg/ml)</text>
<text class="a" transform="translate(217.30 265.50) scale(0.96 1)" text-anchor="middle"><tspan class="b">6</tspan> (µg/ml)</text>
</g>
<g>
<rect x="301.50" y="138.30" width="13.90" height="13.90" fill="#e4bfe0"/>
<rect x="314.80" y="138.30" width="13.90" height="13.90" fill="#e3bbdf"/>
<rect x="328.10" y="138.30" width="13.90" height="13.90" fill="#e3bddf"/>
<rect x="341.40" y="138.30" width="13.90" height="13.90" fill="#edd4ea"/>
<rect x="354.70" y="138.30" width="13.90" height="13.90" fill="#fdfbfd"/>
<rect x="368.00" y="138.30" width="13.90" height="13.90" fill="#fcf7fb"/>
<rect x="381.30" y="138.30" width="13.90" height="13.90" fill="#fcf7fb"/>
<rect x="394.60" y="138.30" width="13.30" height="13.90" fill="#fcf7fb"/>
<rect x="301.50" y="151.60" width="13.90" height="13.90" fill="#aa47a2"/>
<rect x="314.80" y="151.60" width="13.90" height="13.90" fill="#ab49a3"/>
<rect x="328.10" y="151.60" width="13.90" height="13.90" fill="#ab49a3"/>
<rect x="341.40" y="151.60" width="13.90" height="13.90" fill="#b052a8"/>
<rect x="354.70" y="151.60" width="13.90" height="13.90" fill="#f1ddef"/>
<rect x="368.00" y="151.60" width="13.90" height="13.90" fill="#fcf7fb"/>
<rect x="381.30" y="151.60" width="13.90" height="13.90" fill="#fcf7fb"/>
<rect x="394.60" y="151.60" width="13.30" height="13.90" fill="#fcf7fb"/>
<rect x="301.50" y="164.90" width="13.90" height="13.90" fill="#830f7e"/>
<rect x="314.80" y="164.90" width="13.90" height="13.90" fill="#8f1f89"/>
<rect x="328.10" y="164.90" width="13.90" height="13.90" fill="#8d1c87"/>
<rect x="341.40" y="164.90" width="13.90" height="13.90" fill="#8c1b86"/>
<rect x="354.70" y="164.90" width="13.90" height="13.90" fill="#c375bc"/>
<rect x="368.00" y="164.90" width="13.90" height="13.90" fill="#fcf7fb"/>
<rect x="381.30" y="164.90" width="13.90" height="13.90" fill="#fcf7fb"/>
<rect x="394.60" y="164.90" width="13.30" height="13.90" fill="#fcf7fb"/>
<rect x="301.50" y="178.20" width="13.90" height="13.90" fill="#780375"/>
<rect x="314.80" y="178.20" width="13.90" height="13.90" fill="#780375"/>
<rect x="328.10" y="178.20" width="13.90" height="13.90" fill="#790476"/>
<rect x="341.40" y="178.20" width="13.90" height="13.90" fill="#7c0678"/>
<rect x="354.70" y="178.20" width="13.90" height="13.90" fill="#9e3396"/>
<rect x="368.00" y="178.20" width="13.90" height="13.90" fill="#fcf7fb"/>
<rect x="381.30" y="178.20" width="13.90" height="13.90" fill="#fcf7fb"/>
<rect x="394.60" y="178.20" width="13.30" height="13.90" fill="#fcf7fb"/>
<rect x="301.50" y="191.50" width="13.90" height="13.90" fill="#7b0577"/>
<rect x="314.80" y="191.50" width="13.90" height="13.90" fill="#871482"/>
<rect x="328.10" y="191.50" width="13.90" height="13.90" fill="#861381"/>
<rect x="341.40" y="191.50" width="13.90" height="13.90" fill="#8b1985"/>
<rect x="354.70" y="191.50" width="13.90" height="13.90" fill="#9a2e93"/>
<rect x="368.00" y="191.50" width="13.90" height="13.90" fill="#fbf5fa"/>
<rect x="381.30" y="191.50" width="13.90" height="13.90" fill="#fbf5fa"/>
<rect x="394.60" y="191.50" width="13.30" height="13.90" fill="#fbf5fa"/>
<rect x="301.50" y="204.80" width="13.90" height="13.90" fill="#790476"/>
<rect x="314.80" y="204.80" width="13.90" height="13.90" fill="#861381"/>
<rect x="328.10" y="204.80" width="13.90" height="13.90" fill="#861381"/>
<rect x="341.40" y="204.80" width="13.90" height="13.90" fill="#881683"/>
<rect x="354.70" y="204.80" width="13.90" height="13.90" fill="#94258d"/>
<rect x="368.00" y="204.80" width="13.90" height="13.90" fill="#ffffff"/>
<rect x="381.30" y="204.80" width="13.90" height="13.90" fill="#fbf5fa"/>
<rect x="394.60" y="204.80" width="13.30" height="13.90" fill="#fbf5fa"/>
<rect x="301.50" y="218.10" width="13.90" height="13.90" fill="#790476"/>
<rect x="314.80" y="218.10" width="13.90" height="13.90" fill="#84117f"/>
<rect x="328.10" y="218.10" width="13.90" height="13.90" fill="#84117f"/>
<rect x="341.40" y="218.10" width="13.90" height="13.90" fill="#851280"/>
<rect x="354.70" y="218.10" width="13.90" height="13.90" fill="#861381"/>
<rect x="368.00" y="218.10" width="13.90" height="13.90" fill="#d090c9"/>
<rect x="381.30" y="218.10" width="13.90" height="13.90" fill="#f7ecf6"/>
<rect x="394.60" y="218.10" width="13.30" height="13.90" fill="#f9f1f8"/>
<rect x="301.50" y="231.40" width="13.90" height="13.30" fill="#760073"/>
<rect x="314.80" y="231.40" width="13.90" height="13.30" fill="#760073"/>
<rect x="328.10" y="231.40" width="13.90" height="13.30" fill="#760073"/>
<rect x="341.40" y="231.40" width="13.90" height="13.30" fill="#760073"/>
<rect x="354.70" y="231.40" width="13.90" height="13.30" fill="#760073"/>
<rect x="368.00" y="231.40" width="13.90" height="13.30" fill="#760073"/>
<rect x="381.30" y="231.40" width="13.90" height="13.30" fill="#f6e9f5"/>
<rect x="394.60" y="231.40" width="13.30" height="13.30" fill="#f9f1f8"/>
<rect x="300.50" y="137.30" width="1.70" height="108.40" fill="#fff"/>
<path d="M288.40 138.20H408.50 M288.40 244.80H408.50 M408.35 138.20V257.90" stroke="#777" stroke-width="0.9" fill="none"/>
<path d="M302.20 138.20V257.90" stroke="#555" stroke-width="0.9" fill="none"/>
<rect x="367.95" y="204.95" width="13.50" height="12.80" rx="0.9" fill="#fff" stroke="#222" stroke-width="1"/>
<text class="t" transform="translate(301.20 147.95) scale(1 1.1)" text-anchor="end">100</text>
<text class="t" transform="translate(301.20 161.25) scale(1 1.1)" text-anchor="end">50</text>
<text class="t" transform="translate(301.20 174.55) scale(1 1.1)" text-anchor="end">25</text>
<text class="t" transform="translate(301.20 187.85) scale(1 1.1)" text-anchor="end">13</text>
<text class="t" transform="translate(301.50 201.15) scale(1 1.1)" text-anchor="end">6.3</text>
<text class="t" transform="translate(301.20 214.45) scale(1 1.1)" text-anchor="end">3.1</text>
<text class="t" transform="translate(300.90 227.75) scale(1 1.1)" text-anchor="end">1.6</text>
<text class="t" transform="translate(301.20 241.05) scale(1 1.1)" text-anchor="end">0</text>
<text class="t" transform="translate(307.65 253.80) scale(1 1.1)" text-anchor="middle">0</text>
<text class="t" transform="translate(320.95 253.80) scale(1 1.1)" text-anchor="middle">0.8</text>
<text class="t" transform="translate(334.85 253.80) scale(1 1.1)" text-anchor="middle">1.6</text>
<text class="t" transform="translate(347.95 253.80) scale(1 1.1)" text-anchor="middle">3.1</text>
<text class="t" transform="translate(360.95 253.80) scale(1 1.1)" text-anchor="middle">6.3</text>
<text class="t" transform="translate(374.15 253.80) scale(1 1.1)" text-anchor="middle">13</text>
<text class="t" transform="translate(388.05 253.80) scale(1 1.1)" text-anchor="middle">25</text>
<text class="t" transform="translate(401.05 253.80) scale(1 1.1)" text-anchor="middle">50</text>
<text class="y" transform="translate(285.10 191.70) rotate(-90) scale(1.165 1)" text-anchor="middle">Erythromycin (µg/ml)</text>
<text class="a" transform="translate(354.70 265.50) scale(0.96 1)" text-anchor="middle"><tspan class="b">7</tspan> (µg/ml)</text>
</g>
<g>
<rect x="439.40" y="138.30" width="13.90" height="13.90" fill="#fbf5fa"/>
<rect x="452.70" y="138.30" width="13.90" height="13.90" fill="#fdfbfd"/>
<rect x="466.00" y="138.30" width="13.90" height="13.90" fill="#fdfbfd"/>
<rect x="479.30" y="138.30" width="13.90" height="13.90" fill="#fefcfe"/>
<rect x="492.60" y="138.30" width="13.90" height="13.90" fill="#fefcfe"/>
<rect x="505.90" y="138.30" width="13.90" height="13.90" fill="#fefcfe"/>
<rect x="519.20" y="138.30" width="13.90" height="13.90" fill="#fefcfe"/>
<rect x="532.50" y="138.30" width="13.30" height="13.90" fill="#fefcfe"/>
<rect x="439.40" y="151.60" width="13.90" height="13.90" fill="#efd9ed"/>
<rect x="452.70" y="151.60" width="13.90" height="13.90" fill="#fdfafd"/>
<rect x="466.00" y="151.60" width="13.90" height="13.90" fill="#fefcfe"/>
<rect x="479.30" y="151.60" width="13.90" height="13.90" fill="#fefcfe"/>
<rect x="492.60" y="151.60" width="13.90" height="13.90" fill="#fefcfe"/>
<rect x="505.90" y="151.60" width="13.90" height="13.90" fill="#fefcfe"/>
<rect x="519.20" y="151.60" width="13.90" height="13.90" fill="#fefcfe"/>
<rect x="532.50" y="151.60" width="13.30" height="13.90" fill="#fefcfe"/>
<rect x="439.40" y="164.90" width="13.90" height="13.90" fill="#cd8ac6"/>
<rect x="452.70" y="164.90" width="13.90" height="13.90" fill="#fbf5fa"/>
<rect x="466.00" y="164.90" width="13.90" height="13.90" fill="#fdfbfd"/>
<rect x="479.30" y="164.90" width="13.90" height="13.90" fill="#fdfbfd"/>
<rect x="492.60" y="164.90" width="13.90" height="13.90" fill="#fdfbfd"/>
<rect x="505.90" y="164.90" width="13.90" height="13.90" fill="#fdfbfd"/>
<rect x="519.20" y="164.90" width="13.90" height="13.90" fill="#fdfbfd"/>
<rect x="532.50" y="164.90" width="13.30" height="13.90" fill="#fdfbfd"/>
<rect x="439.40" y="178.20" width="13.90" height="13.90" fill="#ac4aa4"/>
<rect x="452.70" y="178.20" width="13.90" height="13.90" fill="#f0dbee"/>
<rect x="466.00" y="178.20" width="13.90" height="13.90" fill="#fbf5fa"/>
<rect x="479.30" y="178.20" width="13.90" height="13.90" fill="#fcf7fb"/>
<rect x="492.60" y="178.20" width="13.90" height="13.90" fill="#fdfafd"/>
<rect x="505.90" y="178.20" width="13.90" height="13.90" fill="#fdfafd"/>
<rect x="519.20" y="178.20" width="13.90" height="13.90" fill="#fdfafd"/>
<rect x="532.50" y="178.20" width="13.30" height="13.90" fill="#fdfafd"/>
<rect x="439.40" y="191.50" width="13.90" height="13.90" fill="#a7429f"/>
<rect x="452.70" y="191.50" width="13.90" height="13.90" fill="#cf8fc9"/>
<rect x="466.00" y="191.50" width="13.90" height="13.90" fill="#f4e6f3"/>
<rect x="479.30" y="191.50" width="13.90" height="13.90" fill="#fbf5fa"/>
<rect x="492.60" y="191.50" width="13.90" height="13.90" fill="#ffffff"/>
<rect x="505.90" y="191.50" width="13.90" height="13.90" fill="#fdfafd"/>
<rect x="519.20" y="191.50" width="13.90" height="13.90" fill="#fdfafd"/>
<rect x="532.50" y="191.50" width="13.30" height="13.90" fill="#fdfafd"/>
<rect x="439.40" y="204.80" width="13.90" height="13.90" fill="#9b2f94"/>
<rect x="452.70" y="204.80" width="13.90" height="13.90" fill="#ae4ea6"/>
<rect x="466.00" y="204.80" width="13.90" height="13.90" fill="#d499ce"/>
<rect x="479.30" y="204.80" width="13.90" height="13.90" fill="#f2e0f0"/>
<rect x="492.60" y="204.80" width="13.90" height="13.90" fill="#f9f0f8"/>
<rect x="505.90" y="204.80" width="13.90" height="13.90" fill="#faf4fa"/>
<rect x="519.20" y="204.80" width="13.90" height="13.90" fill="#fbf6fb"/>
<rect x="532.50" y="204.80" width="13.30" height="13.90" fill="#fcf7fb"/>
<rect x="439.40" y="218.10" width="13.90" height="13.90" fill="#92228b"/>
<rect x="452.70" y="218.10" width="13.90" height="13.90" fill="#a13899"/>
<rect x="466.00" y="218.10" width="13.90" height="13.90" fill="#b559ac"/>
<rect x="479.30" y="218.10" width="13.90" height="13.90" fill="#e3bddf"/>
<rect x="492.60" y="218.10" width="13.90" height="13.90" fill="#e8c7e4"/>
<rect x="505.90" y="218.10" width="13.90" height="13.90" fill="#ebcfe8"/>
<rect x="519.20" y="218.10" width="13.90" height="13.90" fill="#f9f0f8"/>
<rect x="532.50" y="218.10" width="13.30" height="13.90" fill="#fbf6fb"/>
<rect x="439.40" y="231.40" width="13.90" height="13.30" fill="#780375"/>
<rect x="452.70" y="231.40" width="13.90" height="13.30" fill="#7e097a"/>
<rect x="466.00" y="231.40" width="13.90" height="13.30" fill="#830f7e"/>
<rect x="479.30" y="231.40" width="13.90" height="13.30" fill="#8a1885"/>
<rect x="492.60" y="231.40" width="13.90" height="13.30" fill="#a23b9b"/>
<rect x="505.90" y="231.40" width="13.90" height="13.30" fill="#a53e9d"/>
<rect x="519.20" y="231.40" width="13.90" height="13.30" fill="#aa47a2"/>
<rect x="532.50" y="231.40" width="13.30" height="13.30" fill="#b559ac"/>
<rect x="438.40" y="137.30" width="1.00" height="108.40" fill="#fff"/>
<path d="M425.60 138.20H546.40 M425.60 244.80H546.40 M546.25 138.20V257.90" stroke="#777" stroke-width="0.9" fill="none"/>
<path d="M439.40 138.20V257.90" stroke="#555" stroke-width="0.9" fill="none"/>
<rect x="492.55" y="191.65" width="13.50" height="12.80" rx="0.9" fill="#fff" stroke="#222" stroke-width="1"/>
<text class="t" transform="translate(438.20 147.95) scale(1 1.1)" text-anchor="end">200</text>
<text class="t" transform="translate(438.20 161.25) scale(1 1.1)" text-anchor="end">100</text>
<text class="t" transform="translate(438.20 174.55) scale(1 1.1)" text-anchor="end">50</text>
<text class="t" transform="translate(438.20 187.85) scale(1 1.1)" text-anchor="end">25</text>
<text class="t" transform="translate(438.20 201.15) scale(1 1.1)" text-anchor="end">13</text>
<text class="t" transform="translate(438.50 214.45) scale(1 1.1)" text-anchor="end">6.3</text>
<text class="t" transform="translate(438.80 227.75) scale(1 1.1)" text-anchor="end">3.1</text>
<text class="t" transform="translate(438.20 241.05) scale(1 1.1)" text-anchor="end">0</text>
<text class="t" transform="translate(445.75 253.80) scale(1 1.1)" text-anchor="middle">0</text>
<text class="t" transform="translate(458.95 253.80) scale(1 1.1)" text-anchor="middle">3.1</text>
<text class="t" transform="translate(472.55 253.80) scale(1 1.1)" text-anchor="middle">6.3</text>
<text class="t" transform="translate(485.95 253.80) scale(1 1.1)" text-anchor="middle">13</text>
<text class="t" transform="translate(499.15 253.80) scale(1 1.1)" text-anchor="middle">25</text>
<text class="t" transform="translate(512.15 253.80) scale(1 1.1)" text-anchor="middle">50</text>
<text class="t" transform="translate(525.55 253.80) scale(1 1.1)" text-anchor="middle">100</text>
<text class="t" transform="translate(538.55 253.80) scale(1 1.1)" text-anchor="middle">200</text>
<text class="y" transform="translate(422.30 191.70) rotate(-90) scale(1.165 1)" text-anchor="middle">Erythromycin (µg/ml)</text>
<text class="a" transform="translate(492.60 265.50) scale(0.96 1)" text-anchor="middle"><tspan class="b">PMBN</tspan> (µg/ml)</text>
</g>
</g></svg></body></html>
